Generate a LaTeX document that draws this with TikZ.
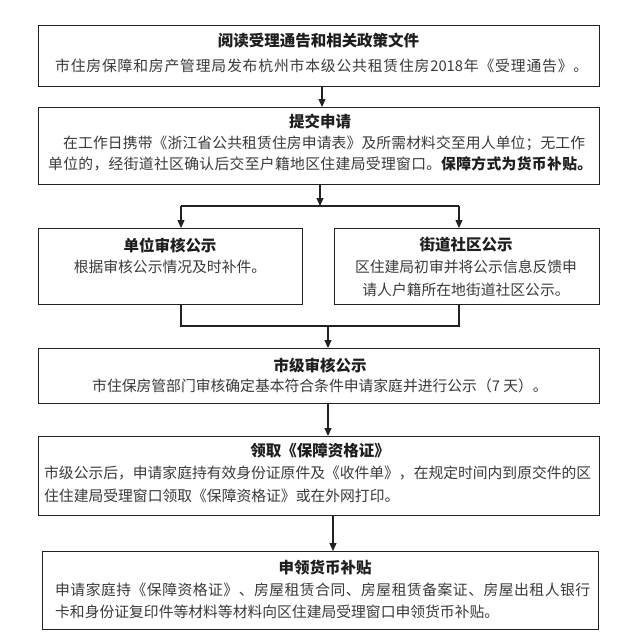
\documentclass[tikz,border=0pt]{standalone}
\usepackage{fontspec}
\setmainfont{Noto Sans CJK SC}
\usetikzlibrary{arrows.meta}
\definecolor{txt}{HTML}{3A3A3A}
\definecolor{ttl}{HTML}{1E1E1E}
\definecolor{edge}{HTML}{222222}
\let\lsend\relax
\newcommand\jst[2]{\makebox[#1][s]{\jfirst#2\lsend}}
\def\jfirst#1{#1\jloop}
\def\jloop#1{\ifx#1\lsend\else\hskip 0pt plus 1fil minus 1fil\relax#1\expandafter\jloop\fi}
\def\yr{\mbox{2018}}
\tikzset{
  box/.style={draw=edge, line width=1.1pt, inner sep=0pt, anchor=north west},
  ttlt/.style={font=\fontsize{15.5}{18}\selectfont\bfseries, text=ttl, inner sep=0pt},
  bod/.style={font=\fontsize{14.8}{18}\selectfont, text=txt, inner sep=0pt},
  arr/.style={draw=edge, line width=1.1pt, -{Triangle[length=8pt,width=7pt]}},
  ln/.style={draw=edge, line width=1.1pt},
}
\begin{document}
\begin{tikzpicture}[x=1pt,y=-1pt]
\fill[white] (0,0) rectangle (641,641);
\useasboundingbox (0,0) rectangle (641,641);
% boxes
\node[box, minimum width=561pt, minimum height=61pt] (b1) at (38,25) {};
\node[box, minimum width=561pt, minimum height=77pt] (b2) at (38,107) {};
\node[box, minimum width=264pt, minimum height=76pt] (b3l) at (38,228) {};
\node[box, minimum width=265pt, minimum height=76pt] (b3r) at (334,228) {};
\node[box, minimum width=561pt, minimum height=55pt] (b4) at (38,348) {};
\node[box, minimum width=561pt, minimum height=79pt] (b5) at (38,436) {};
\node[box, minimum width=556pt, minimum height=78pt] (b6) at (42,551) {};
% texts
\node[ttlt] (t1) at (318.5,41) {阅读受理通告和相关政策文件};
\node[bod, anchor=west] (t1a) at (55,66) {\jst{533pt}{市住房保障和房产管理局发布杭州市本级公共租赁住房\yr 年《受理通告》。}};
\node[ttlt] (t2) at (320,122) {提交申请};
\node[bod, anchor=west] (t2a) at (63,143) {\jst{522pt}{在工作日携带《浙江省公共租赁住房申请表》及所需材料交至用人单位；无工作}};
\node[bod, anchor=west] (t2b) at (48,164) {\jst{393pt}{单位的，经街道社区确认后交至户籍地区住建局受理窗口。}};
\node[bod, anchor=west, font=\fontsize{14.8}{18}\selectfont\bfseries, text=ttl] (t2c) at (441,164) {\jst{151pt}{保障方式为货币补贴。}};
\node[ttlt] (t3) at (170,245) {单位审核公示};
\node[bod] (t3a) at (170,267) {根据审核公示情况及时补件。};
\node[ttlt] (t4) at (466,245) {街道社区公示};
\node[bod] (t4a) at (466,267) {区住建局初审并将公示信息反馈申};
\node[bod] (t4b) at (466,290) {请人户籍所在地街道社区公示。};
\node[ttlt] (t5) at (320,366) {市级审核公示};
\node[bod] (t5a) at (320,386) {市住保房管部门审核确定基本符合条件申请家庭并进行公示（7 天）。};
\node[ttlt] (t6) at (320,451) {领取《保障资格证》};
\node[bod, anchor=west] (t6a) at (44,473) {\jst{547pt}{市级公示后，申请家庭持有效身份证原件及《收件单》，在规定时间内到原交件的区}};
\node[bod, anchor=west] (t6b) at (44,496) {住住建局受理窗口领取《保障资格证》或在外网打印。};
\node[ttlt] (t7) at (325,568) {申领货币补贴};
\node[bod, anchor=west] (t7a) at (55,590) {\jst{535pt}{申请家庭持《保障资格证》、房屋租赁合同、房屋租赁备案证、房屋出租人银行}};
\node[bod, anchor=west] (t7b) at (55,612) {卡和身份证复印件等材料等材料向区住建局受理窗口申领货币补贴。};
% connectors
\coordinate (a1) at (322,0);
\draw[arr] (b1.south -| a1) -- (b2.north -| a1);
\coordinate (j1) at (320,206);
\coordinate (bl) at (181,206);
\coordinate (br) at (459,206);
\draw[arr] (b2.south -| j1) -- (j1);
\draw[ln] (bl) -- (br);
\draw[arr] (bl) -- (bl |- b3l.north);
\draw[arr] (br) -- (br |- b3r.north);
\coordinate (ml) at (181,326);
\coordinate (mr) at (459,326);
\coordinate (j2) at (328,326);
\draw[ln] (b3l.south -| ml) -- (ml) -- (mr) -- (b3r.south -| mr);
\draw[arr] (j2) -- (b4.north -| j2);
\draw[arr] (b4.south -| j2) -- (b5.north -| j2);
\coordinate (a5) at (333,0);
\draw[arr] (b5.south -| a5) -- (b6.north -| a5);
\end{tikzpicture}
\end{document}
